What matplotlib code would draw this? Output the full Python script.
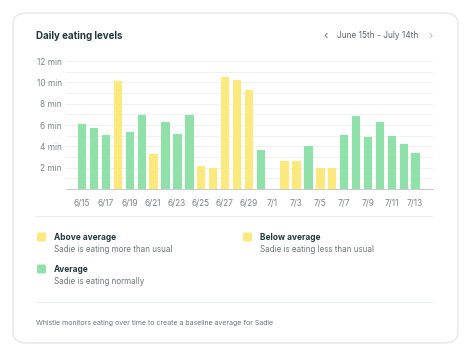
import matplotlib.pyplot as plt
from matplotlib.patches import FancyBboxPatch
from matplotlib.lines import Line2D

plt.rcParams['font.family'] = ['Inter', 'DejaVu Sans']

# minutes per day, 6/15 .. 7/13 (7/1 has no data)
days = ["6/15", "6/16", "6/17", "6/18", "6/19", "6/20", "6/21", "6/22", "6/23", "6/24",
        "6/25", "6/26", "6/27", "6/28", "6/29", "6/30", "7/1", "7/2", "7/3", "7/4",
        "7/5", "7/6", "7/7", "7/8", "7/9", "7/10", "7/11", "7/12", "7/13"]
minutes = [6.1, 5.7, 5.1, 10.1, 5.3, 6.9, 3.3, 6.3, 5.2, 6.9,
           2.2, 1.95, 10.5, 10.2, 9.3, 3.65, 0, 2.6, 2.6, 4.0,
           2.0, 2.0, 5.1, 6.8, 4.9, 6.3, 5.0, 4.25, 3.35]
# a = average, h = above, l = below, n = no data
level = ["a", "a", "a", "h", "a", "a", "l", "a", "a", "a",
         "l", "l", "h", "h", "h", "a", "n", "l", "l", "a",
         "l", "l", "a", "a", "a", "a", "a", "a", "a"]

GREEN = "#8fe0a9"
YELLOW = "#fbe97d"
DARK = "#23393d"
GREY = "#7d8587"

fig = plt.figure(figsize=(4.74, 3.59), dpi=100)
W, H = 474, 359


def fx(px):
    return px / W


def fy(py):
    return 1 - py / H


# card with soft border
card = FancyBboxPatch((fx(13), fy(343)), fx(445), 330 / H,
                      boxstyle="round,pad=0,rounding_size=0.03",
                      transform=fig.transFigure, facecolor="white",
                      edgecolor="#e6e8e8", linewidth=1.0, zorder=-1)
fig.patches.append(card)

# chart
ax = fig.add_axes([fx(66), fy(189), fx(433 - 66), (189 - 61) / H])
ax.set_facecolor("none")
colors = {"a": GREEN, "h": YELLOW, "l": YELLOW, "n": "none"}
x = list(range(len(days)))
ax.bar(x, minutes, width=0.62, color=[colors[c] for c in level],
       edgecolor=[colors[c] for c in level], linewidth=0.8,
       joinstyle="round", zorder=3)
ax.set_xlim(-1.32, 29.5)
ax.set_ylim(0, 12)
ax.set_yticks(range(0, 13))
ax.set_yticklabels(["" if v == 0 or v % 2 else f"{v} min" for v in range(0, 13)])
ax.set_xticks(x[::2])
ax.set_xticklabels(days[::2])
ax.tick_params(length=0, labelsize=6, labelcolor=GREY)
ax.tick_params(axis="x", pad=7)
ax.tick_params(axis="y", pad=3)
ax.grid(axis="y", color="#f0f2f2", linewidth=0.7, zorder=0)
for s in ["top", "right", "left"]:
    ax.spines[s].set_visible(False)
ax.spines["bottom"].set_color("#c9cdce")
ax.spines["bottom"].set_linewidth(0.8)

# header
fig.text(fx(36), fy(36), "Daily eating levels", fontsize=7.0, fontweight="bold",
         color=DARK, va="center")
fig.text(fx(326), fy(36), "‹", fontsize=8, color="#6c7577", va="center", ha="center")
fig.text(fx(378), fy(36), "June 15th - July 14th", fontsize=6, color="#5f686a",
         va="center", ha="center")
fig.text(fx(431), fy(36), "›", fontsize=8, color="#b5bbbc", va="center", ha="center")

# separators
for yy in [216, 302]:
    fig.add_artist(Line2D([fx(35), fx(432)], [fy(yy), fy(yy)], color="#eceeee",
                          linewidth=0.8, transform=fig.transFigure))

# legend
legend = [(37, 237, YELLOW, "Above average", "Sadie is eating more than usual"),
          (37, 269, GREEN, "Average", "Sadie is eating normally"),
          (243, 237, YELLOW, "Below average", "Sadie is eating less than usual")]
for lx, ly, c, head, sub in legend:
    fig.add_artist(FancyBboxPatch((fx(lx), fy(ly + 4.5)), fx(9), 9 / H,
                                  boxstyle="round,pad=0,rounding_size=0.004",
                                  transform=fig.transFigure, facecolor=c,
                                  edgecolor="none"))
    fig.text(fx(lx + 17), fy(ly + 1), head, fontsize=6, fontweight="bold",
             color=DARK, va="center")
    fig.text(fx(lx + 17), fy(ly + 13), sub, fontsize=5.8, color="#6e7779", va="center")

fig.text(fx(36), fy(323), "Whistle monitors eating over time to create a baseline average for Sadie",
         fontsize=5.0, color="#6e7779", va="center")

fig.savefig("out.png", dpi=100)
